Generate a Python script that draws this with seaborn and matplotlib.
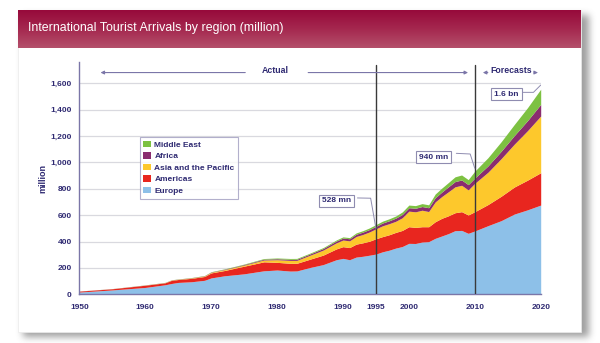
import numpy as np
import pandas as pd
import matplotlib
matplotlib.use("Agg")
import matplotlib.pyplot as plt
from matplotlib.patches import Rectangle, Patch
from matplotlib.colors import LinearSegmentedColormap
import seaborn as sns

years = [1950, 1955, 1960, 1963, 1964, 1965, 1967, 1969, 1970, 1972, 1975, 1978, 1980,
         1982, 1983, 1985, 1987, 1989, 1990, 1991, 1992, 1993, 1994, 1995, 1996, 1997,
         1998, 1999, 2000, 2001, 2002, 2003, 2004, 2005, 2006, 2007, 2008, 2009, 2010,
         2012, 2014, 2016, 2018, 2020]
europe = [17, 33, 52, 72, 82, 90, 95, 106, 124, 140, 155, 178, 184,
          176, 177, 203, 225, 262, 272, 262, 282, 288, 296, 305, 322, 334,
          350, 362, 386, 385, 396, 399, 424, 442, 460, 482, 484, 462, 480,
          520, 558, 608, 640, 676]
americas = [7, 9, 17, 15, 24, 22, 26, 29, 38, 40, 58, 68, 58,
            59, 58, 63, 72, 82, 89, 92, 98, 102, 106, 116, 115, 117,
            119, 122, 126, 122, 116, 113, 126, 134, 135, 136, 142, 139, 146,
            160, 185, 205, 225, 245]
asia = [0.2, 0.5, 1, 1.5, 2, 2, 3, 4, 5, 7, 8, 14, 20,
        22, 22, 30, 38, 46, 50, 51, 58, 63, 70, 75, 82, 84,
        84, 96, 118, 118, 125, 115, 150, 165, 182, 196, 200, 190, 215,
        245, 285, 325, 375, 430]
africa = [0.5, 0.6, 0.8, 1, 1.1, 1.2, 1.5, 2, 2.4, 3, 4.7, 6, 7.2,
          8, 8.5, 9.7, 12, 14, 15, 16, 17, 18, 18.5, 19, 21, 22,
          24, 25, 26, 27, 28, 29, 32, 34, 38, 40, 40, 40, 40,
          48, 56, 65, 76, 88]
middle_east = [0.2, 0.4, 0.6, 0.9, 1, 1.2, 1.4, 1.6, 1.9, 2.5, 3.5, 5, 6,
               6.5, 6.5, 6.5, 7, 8, 9, 8.5, 10, 11, 12, 13, 14, 15,
               16, 19, 20, 20, 22, 22, 28, 30, 32, 36, 38, 38, 52,
               62, 72, 84, 98, 115]

regions = ["Europe", "Americas", "Asia and the Pacific", "Africa", "Middle East"]
colors = ["#8dc0e8", "#e8261f", "#fdc82c", "#8a2c6f", "#7dc142"]
x_ticks = [1950, 1960, 1970, 1980, 1990, 1995, 2000, 2010, 2020]
y_ticks = [0, 200, 400, 600, 800, 1000, 1200, 1400, 1600]
markers = [1995, 2010]
annotations = ["528 mn", "940 mn", "1.6 bn"]

df = pd.DataFrame({"year": years, "Europe": europe, "Americas": americas,
                   "Asia and the Pacific": asia, "Africa": africa,
                   "Middle East": middle_east})

sns.set_theme(style="white")
plt.rcParams["font.family"] = ["Liberation Sans", "DejaVu Sans"]

W, H = 600, 343
fig = plt.figure(figsize=(6, 3.43), dpi=100)
fig.patch.set_facecolor("white")

def px(x0, y0, w, h):
    return [x0 / W, 1 - (y0 + h) / H, w / W, h / H]

# card with soft shadow
bg = fig.add_axes([0, 0, 1, 1], zorder=-10)
bg.set_xlim(0, W); bg.set_ylim(H, 0); bg.axis("off")
mask = np.zeros((H, W))
mask[15:337, 23:589] = 1.0
def blur(a, r):
    k = np.ones(2 * r + 1) / (2 * r + 1)
    for _ in range(3):
        a = np.apply_along_axis(lambda m: np.convolve(m, k, mode="same"), 0, a)
        a = np.apply_along_axis(lambda m: np.convolve(m, k, mode="same"), 1, a)
    return a
sh = blur(mask, 3) * 0.6
rgba = np.zeros((H, W, 4))
rgba[..., :3] = 0.38
rgba[..., 3] = sh
bg.imshow(rgba, extent=[0, W, H, 0], interpolation="bilinear", zorder=0)
bg.add_patch(Rectangle((18, 10), 563, 322, facecolor="white", edgecolor="#ebebeb", lw=0.5, zorder=1))

# title bar gradient
tb = fig.add_axes(px(18, 10, 563, 38), zorder=-5)
grad = np.linspace(0, 1, 100).reshape(-1, 1)
cm = LinearSegmentedColormap.from_list("bar", ["#970a3b", "#a5284f", "#b4506b"])
tb.imshow(grad, aspect="auto", cmap=cm, extent=[0, 1, 0, 1])
tb.axis("off")
tb.text(0.018, 0.52, "International Tourist Arrivals by region (million)",
        color="white", fontsize=8.9, va="center", ha="left", transform=tb.transAxes)

# main chart
ax = fig.add_axes(px(79.3, 62, 461.4, 232.3))
ax.set_facecolor("white")
ax.stackplot(df["year"], [df[r] for r in regions], colors=colors, linewidth=0, zorder=2)
ax.set_xlim(1950, 2020)
ax.set_ylim(0, 1760)
ax.set_yticks(y_ticks)
ax.set_yticklabels([f"{v:,}" for v in y_ticks])
ax.set_xticks(x_ticks)
ax.set_xticks(list(range(1950, 2021, 5)), minor=True)
navy = "#2f2a72"
for lab in ax.get_xticklabels() + ax.get_yticklabels():
    lab.set_fontweight("bold"); lab.set_color(navy); lab.set_fontsize(6)
ax.yaxis.grid(True, color="#d9d9df", lw=0.9, zorder=0)
ax.set_axisbelow(True)
sns.despine(ax=ax, top=True, right=True)
for s in ["left", "bottom"]:
    ax.spines[s].set_color("#7b76a8"); ax.spines[s].set_linewidth(1.0)
ax.tick_params(axis="x", which="both", direction="out", length=3, color="#7b76a8", pad=4)
ax.tick_params(axis="y", which="both", direction="out", length=3, color="#7b76a8", pad=2.5)
ax.set_ylabel("million", fontsize=6.5, fontweight="bold", color=navy, labelpad=2)

for m in markers:
    ax.axvline(m, color="#3a3a3a", lw=1.0, ymin=0, ymax=0.985, zorder=3)

# Actual / Forecasts arrows
ay = 1680
arr = dict(arrowstyle="-|>", color="#7b76a8", lw=0.8, mutation_scale=5)
ax.text(1979.8, 1692, "Actual", ha="center", va="center", fontsize=6.3, fontweight="bold", color=navy)
ax.annotate("", xy=(1952.8, ay), xytext=(1975.6, ay), arrowprops=arr)
ax.annotate("", xy=(2009.4, ay), xytext=(1984.3, ay), arrowprops=arr)
ax.text(2015.5, 1692, "Forecasts", ha="center", va="center", fontsize=6.3, fontweight="bold", color=navy)
ax.annotate("", xy=(2010.8, ay), xytext=(2012.4, ay), arrowprops=arr)
ax.annotate("", xy=(2020.0, ay), xytext=(2018.8, ay), arrowprops=arr)

# value callouts
box = dict(boxstyle="square,pad=0.35", facecolor="white", edgecolor="#8f8cb0", lw=0.8)
lc = "#8f8cb0"
ax.text(1989.0, 707, annotations[0], ha="center", va="center", fontsize=6, fontweight="bold", color=navy, bbox=box)
ax.plot([1992.2, 1994.2, 1995.0], [730, 728, 500], color=lc, lw=0.7, zorder=4)
ax.text(2003.7, 1040, annotations[1], ha="center", va="center", fontsize=6, fontweight="bold", color=navy, bbox=box)
ax.plot([2007.2, 2009.3, 2010.0], [1068, 1063, 955], color=lc, lw=0.7, zorder=4)
ax.text(2014.8, 1517, annotations[2], ha="center", va="center", fontsize=6, fontweight="bold", color=navy, bbox=box)
ax.plot([2017.3, 2018.9, 2020.0], [1530, 1530, 1585], color=lc, lw=0.7, zorder=4)

# legend
handles = [Patch(facecolor=c, edgecolor="none") for c in colors][::-1]
leg = ax.legend(handles, regions[::-1], loc="upper left", bbox_to_anchor=(0.131, 0.678),
                frameon=True, fancybox=False, fontsize=6, handlelength=0.9, handleheight=0.9,
                handletextpad=0.4, labelspacing=0.38, borderpad=0.45, borderaxespad=0)
leg.get_frame().set_edgecolor("#a09cc0"); leg.get_frame().set_linewidth(0.8)
for t in leg.get_texts():
    t.set_color(navy); t.set_fontweight("bold")
leg.set_zorder(5)

fig.savefig("out.png", dpi=100)
